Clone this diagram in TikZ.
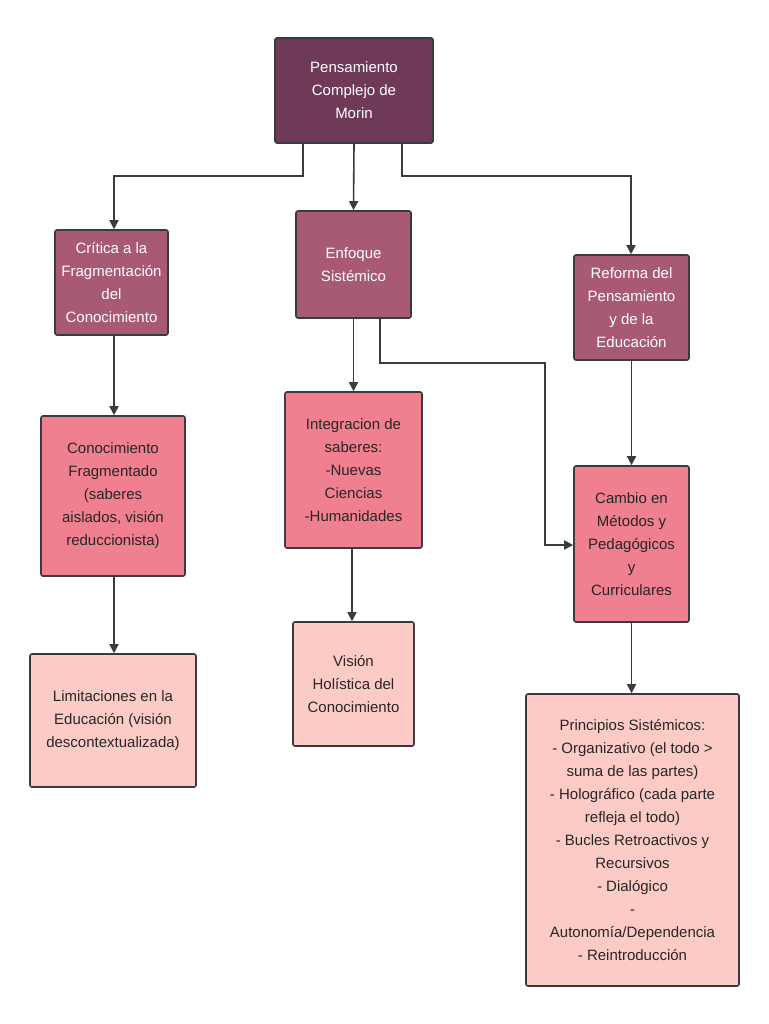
\documentclass[tikz,border=0pt]{standalone}
\usepackage{fontspec}
\setmainfont{Liberation Sans}
\usetikzlibrary{arrows.meta}
\definecolor{c1}{HTML}{6E3A57}
\definecolor{c2}{HTML}{A85A74}
\definecolor{c3}{HTML}{F0808F}
\definecolor{c4}{HTML}{FDCBC6}
\definecolor{bd}{HTML}{3A3A40}
\begin{document}
\begin{tikzpicture}[x=1pt,y=-1pt,
 box/.style={draw=bd,line width=1.6pt,rounded corners=2pt,align=center,inner sep=0pt,
   font=\fontsize{15}{23}\selectfont},
 dk/.style={text=white},
 lt/.style={text=black!85},
 ar/.style={draw=bd,line width=1.6pt,-{Triangle[length=9pt,width=9pt]}}]
\useasboundingbox (0,0) rectangle (768,1024);
\newcommand\bx[7]{\node[box,#6,fill=#5,minimum width=#3-#1,minimum height=#4-#2] (#7) at ({(#1+#3)/2},{(#2+#4)/2}) {};}
\bx{275}{38}{433}{143}{c1}{dk}{top}
\node[box,dk,draw=none] at (top) {Pensamiento\\Complejo de\\Morin};
\bx{55}{230}{168}{335}{c2}{dk}{cri}
\node[box,dk,draw=none] at (cri) {Crítica a la\\Fragmentación\\del\\Conocimiento};
\bx{296}{211}{411}{318}{c2}{dk}{enf}
\node[box,dk,draw=none] at (enf) {Enfoque\\Sistémico};
\bx{574}{255}{689}{360}{c2}{dk}{ref}
\node[box,dk,draw=none] at (ref) {Reforma del\\Pensamiento\\y de la\\Educación};
\bx{41}{416}{185}{576}{c3}{lt}{con}
\node[box,lt,draw=none] at (con) {Conocimiento\\Fragmentado\\(saberes\\aislados, visión\\reduccionista)};
\bx{285}{392}{422}{548}{c3}{lt}{int}
\node[box,lt,draw=none] at (int) {Integracion de\\saberes:\\-Nuevas\\Ciencias\\-Humanidades};
\bx{574}{466}{689}{622}{c3}{lt}{cam}
\node[box,lt,draw=none] at (cam) {Cambio en\\Métodos y\\Pedagógicos\\y\\Curriculares};
\bx{30}{654}{196}{787}{c4}{lt}{lim}
\node[box,lt,draw=none] at (lim) {Limitaciones en la\\Educación (visión\\descontextualizada)};
\bx{293}{622}{414}{746}{c4}{lt}{vis}
\node[box,lt,draw=none] at (vis) {Visión\\Holística del\\Conocimiento};
\bx{526}{694}{739}{986}{c4}{lt}{pri}
\node[box,lt,draw=none] at (pri) {Principios Sistémicos:\\- Organizativo (el todo >\\suma de las partes)\\- Holográfico (cada parte\\refleja el todo)\\- Bucles Retroactivos y\\Recursivos\\- Dialógico\\-\\Autonomía/Dependencia\\- Reintroducción};
\draw[ar] (top.south -| 303,0) |- (114,176) -- (cri.north -| 114,0);
\draw[ar] (top.south) -- (enf.north);
\draw[ar] (top.south -| 402,0) |- (631,176) -- (ref.north -| 631,0);
\draw[ar] (cri.south -| 114,0) -- (con.north -| 114,0);
\draw[ar] (enf.south) -- (enf.south |- int.north);
\draw[ar] (enf.south -| 380,0) |- (545,363) |- (cam.west |- 0,545);
\draw[ar] (ref.south) -- (cam.north);
\draw[ar] (con.south -| 114,0) -- (lim.north -| 114,0);
\draw[ar] (int.south -| 352,0) -- (vis.north -| 352,0);
\draw[ar] (cam.south) -- (pri.north -| cam.south);
\end{tikzpicture}
\end{document}
